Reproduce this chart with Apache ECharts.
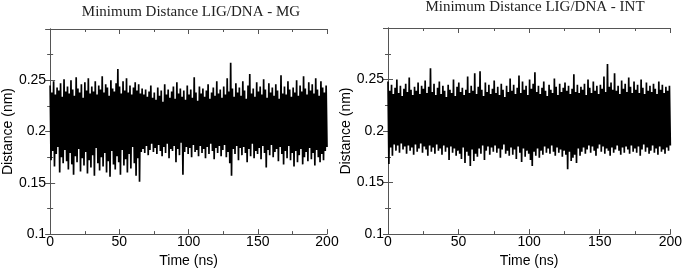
<!DOCTYPE html>
<html>
<head>
<meta charset="utf-8">
<script src="https://cdn.jsdelivr.net/npm/echarts@6/dist/echarts.min.js"></script>
<style>
  html, body { margin: 0; padding: 0; background: #fff; }
  #chart { width: 685px; height: 273px; }
</style>
</head>
<body>
<div id="chart"></div>
<script>
// minimum distance (nm) sampled evenly over 0-200 ns
const distMG = [
  0.245,0.172,0.238,0.181,0.249,0.166,0.236,0.178,0.243,0.185,0.240,0.160,0.247,0.175,0.234,0.169,0.251,0.182,0.239,0.171,
  0.244,0.163,0.237,0.179,0.250,0.168,0.241,0.158,0.235,0.176,0.253,0.170,0.242,0.183,0.238,0.161,0.246,0.174,0.233,0.167,
  0.248,0.180,0.240,0.159,0.252,0.172,0.237,0.165,0.244,0.177,0.239,0.157,0.249,0.184,0.236,0.169,0.245,0.162,0.241,0.175,
  0.254,0.166,0.238,0.179,0.246,0.160,0.243,0.171,0.235,0.156,0.250,0.181,0.242,0.168,0.239,0.163,0.247,0.176,0.261,0.170,
  0.244,0.158,0.237,0.182,0.249,0.167,0.240,0.173,0.252,0.160,0.238,0.178,0.245,0.164,0.236,0.185,0.243,0.169,0.248,0.157,
  0.240,0.174,0.246,0.151,0.237,0.180,0.242,0.183,0.236,0.179,0.241,0.186,0.234,0.177,0.239,0.182,0.245,0.188,0.233,0.180,
  0.238,0.184,0.231,0.178,0.243,0.187,0.235,0.181,0.240,0.176,0.229,0.185,0.246,0.179,0.236,0.188,0.241,0.174,0.233,0.183,
  0.239,0.181,0.244,0.186,0.232,0.170,0.248,0.183,0.237,0.177,0.242,0.189,0.234,0.158,0.240,0.180,0.231,0.185,0.245,0.178,
  0.236,0.184,0.241,0.175,0.233,0.187,0.253,0.180,0.238,0.182,0.230,0.176,0.244,0.186,0.237,0.179,0.242,0.183,0.234,0.174,
  0.240,0.185,0.246,0.178,0.232,0.188,0.238,0.181,0.243,0.173,0.235,0.184,0.249,0.179,0.237,0.186,0.241,0.176,0.233,0.182,
  0.244,0.187,0.236,0.175,0.252,0.180,0.239,0.169,0.267,0.157,0.242,0.183,0.234,0.178,0.247,0.186,0.238,0.172,0.243,0.184,
  0.235,0.177,0.249,0.185,0.240,0.179,0.232,0.170,0.245,0.183,0.256,0.176,0.237,0.188,0.242,0.174,0.234,0.181,0.248,0.178,
  0.239,0.184,0.244,0.173,0.236,0.186,0.251,0.179,0.241,0.165,0.233,0.182,0.247,0.177,0.238,0.187,0.243,0.175,0.235,0.180,
  0.246,0.183,0.240,0.171,0.232,0.185,0.255,0.178,0.237,0.168,0.244,0.181,0.236,0.174,0.249,0.186,0.241,0.172,0.234,0.179,
  0.243,0.166,0.238,0.181,0.250,0.170,0.235,0.177,0.245,0.183,0.239,0.168,0.254,0.175,0.242,0.180,0.236,0.171,0.248,0.184,
  0.240,0.173,0.246,0.179,0.237,0.167,0.252,0.182,0.241,0.175,0.235,0.170,0.249,0.178,0.243,0.172,0.238,0.181,0.245,0.185
];

const distINT = [
  0.248,0.168,0.239,0.184,0.245,0.176,0.236,0.187,0.242,0.181,0.250,0.186,0.237,0.179,0.244,0.188,0.234,0.182,0.241,0.185,
  0.246,0.178,0.238,0.186,0.252,0.181,0.240,0.184,0.235,0.177,0.243,0.187,0.239,0.180,0.247,0.183,0.236,0.188,0.244,0.179,
  0.241,0.185,0.249,0.182,0.237,0.176,0.243,0.186,0.261,0.180,0.238,0.184,0.246,0.178,0.235,0.187,0.242,0.181,0.248,0.183,
  0.236,0.177,0.244,0.186,0.239,0.180,0.233,0.184,0.245,0.172,0.240,0.185,0.237,0.179,0.250,0.183,0.234,0.176,0.243,0.181,
  0.247,0.178,0.238,0.173,0.242,0.184,0.235,0.169,0.240,0.180,0.253,0.176,0.237,0.166,0.244,0.182,0.239,0.171,0.256,0.178,
  0.236,0.175,0.243,0.183,0.258,0.178,0.240,0.186,0.234,0.172,0.247,0.181,0.238,0.185,0.245,0.177,0.236,0.184,0.241,0.180,
  0.249,0.186,0.237,0.179,0.243,0.183,0.235,0.174,0.246,0.182,0.240,0.187,0.233,0.178,0.244,0.181,0.238,0.176,0.251,0.184,
  0.239,0.177,0.245,0.182,0.236,0.173,0.242,0.185,0.254,0.179,0.237,0.170,0.248,0.183,0.240,0.175,0.244,0.181,0.235,0.178,
  0.250,0.172,0.241,0.166,0.246,0.180,0.257,0.176,0.238,0.183,0.244,0.174,0.236,0.181,0.242,0.177,0.248,0.185,0.239,0.179,
  0.234,0.183,0.245,0.178,0.240,0.186,0.237,0.180,0.251,0.176,0.243,0.184,0.235,0.179,0.246,0.182,0.238,0.175,0.242,0.181,
  0.247,0.177,0.239,0.163,0.244,0.180,0.236,0.171,0.241,0.174,0.255,0.177,0.238,0.169,0.245,0.183,0.237,0.176,0.243,0.180,
  0.240,0.184,0.246,0.178,0.235,0.182,0.250,0.186,0.242,0.179,0.237,0.185,0.248,0.181,0.239,0.176,0.244,0.183,0.236,0.187,
  0.245,0.180,0.241,0.185,0.253,0.178,0.238,0.183,0.265,0.181,0.243,0.176,0.247,0.184,0.240,0.179,0.256,0.182,0.239,0.186,
  0.244,0.181,0.236,0.177,0.249,0.184,0.241,0.179,0.246,0.185,0.238,0.182,0.252,0.178,0.243,0.186,0.237,0.180,0.248,0.183,
  0.240,0.179,0.245,0.185,0.237,0.176,0.250,0.182,0.242,0.187,0.236,0.180,0.247,0.184,0.239,0.178,0.244,0.181,0.238,0.186,
  0.246,0.179,0.241,0.183,0.236,0.177,0.248,0.185,0.240,0.180,0.245,0.182,0.237,0.178,0.243,0.184,0.239,0.181,0.244,0.186
];

const titles = ['Minimum Distance LIG/DNA - MG', 'Minimum Distance LIG/DNA - INT'];
const timeRange = [0, 200];   // ns
const distRange = [0.1, 0.3]; // nm

function withTime(values) {
  const step = (timeRange[1] - timeRange[0]) / (values.length - 1);
  return values.map((v, i) => [timeRange[0] + i * step, v]);
}

const grids = [
  { left: 47, top: 29, width: 280, height: 215 },
  { left: 388, top: 28, width: 285, height: 215 }
];

const sans = 'Liberation Sans, Arial, sans-serif';
const ink = '#000';

function xAxes(gi) {
  const base = {
    type: 'value', gridIndex: gi, min: timeRange[0], max: timeRange[1], interval: 50,
    axisLine: { lineStyle: { color: '#555', width: 1 } },
    axisTick: { inside: true, length: 5, lineStyle: { color: '#555' } },
    minorTick: { show: true, splitNumber: 2, length: 3, lineStyle: { color: '#555' } },
    splitLine: { show: false }
  };
  return [
    Object.assign({}, base, {
      position: 'bottom',
      name: 'Time (ns)', nameLocation: 'middle', nameGap: 14,
      nameTextStyle: { fontFamily: sans, fontSize: 14, color: ink },
      axisLabel: { fontFamily: sans, fontSize: 14, color: ink, margin: 1 }
    }),
    Object.assign({}, base, { position: 'top', axisLabel: { show: false } })
  ];
}

function yAxes(gi) {
  const base = {
    type: 'value', gridIndex: gi, min: distRange[0], max: distRange[1], interval: 0.05,
    axisLine: { show: true, lineStyle: { color: '#555', width: 1 } },
    axisTick: { show: true, inside: true, length: 5, lineStyle: { color: '#555' } },
    minorTick: { show: true, splitNumber: 2, length: 3, lineStyle: { color: '#555' } },
    splitLine: { show: false }
  };
  return [
    Object.assign({}, base, {
      position: 'left',
      name: 'Distance (nm)', nameLocation: 'middle', nameGap: 33, nameRotate: 90,
      nameTextStyle: { fontFamily: sans, fontSize: 14, color: ink },
      axisLabel: {
        fontFamily: sans, fontSize: 14, color: ink, margin: 4,
        formatter: v => (v > 0.28 ? '' : String(+v.toFixed(2)))
      }
    }),
    Object.assign({}, base, { position: 'right', axisLabel: { show: false } })
  ];
}

const chart = echarts.init(document.getElementById('chart'), null, { renderer: 'canvas' });

const titleStyle = { fontFamily: 'Liberation Serif, serif', fontSize: 15, fontWeight: 'normal', color: '#222' };

chart.setOption({
  animation: false,
  backgroundColor: '#fff',
  title: [
    { text: titles[0], left: 186, top: 0, textAlign: 'center', textStyle: titleStyle },
    { text: titles[1], left: 530, top: -5, textAlign: 'center', textStyle: titleStyle }
  ],
  grid: grids,
  xAxis: [...xAxes(0), ...xAxes(1)],
  yAxis: [...yAxes(0), ...yAxes(1)],
  series: [
    { type: 'line', xAxisIndex: 0, yAxisIndex: 0, data: withTime(distMG),
      showSymbol: false, sampling: null, lineStyle: { color: ink, width: 1.7 } },
    { type: 'line', xAxisIndex: 2, yAxisIndex: 2, data: withTime(distINT),
      showSymbol: false, sampling: null, lineStyle: { color: ink, width: 1.7 } }
  ]
});
</script>
</body>
</html>
